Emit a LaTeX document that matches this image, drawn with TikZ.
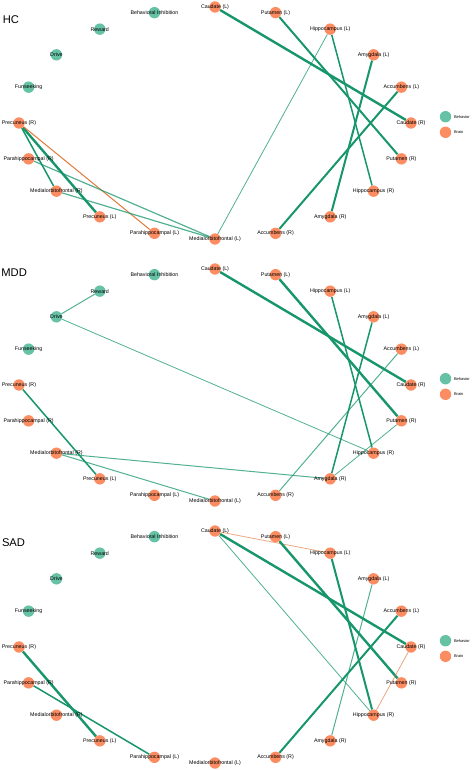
\documentclass[tikz,border=0pt]{standalone}
\usepackage{fontspec}
\setmainfont{Liberation Sans}
\usetikzlibrary{backgrounds}
\definecolor{behc}{HTML}{66C2A5}
\definecolor{brainc}{HTML}{FC8D62}
\definecolor{posc}{HTML}{17966C}
\definecolor{negc}{HTML}{E0793A}
\tikzset{
  bnode/.style={circle,fill=brainc,minimum size=11.4pt,inner sep=0pt,draw=none},
  hnode/.style={circle,fill=behc,minimum size=11.4pt,inner sep=0pt,draw=none},
  lbl/.style={font=\fontsize{5.3}{6}\selectfont,text=black,inner sep=0pt},
  leglbl/.style={font=\fontsize{4.0}{5}\selectfont,text=black,inner sep=0pt,anchor=west},
  ttl/.style={font=\fontsize{11.2}{12}\selectfont,text=black,inner sep=0pt,anchor=west},
  posedge/.style={line width=#1,draw=posc},
  lposedge/.style={line width=#1,draw=posc,draw opacity=0.75},
  negedge/.style={line width=#1,draw=negc},
  lnegedge/.style={line width=#1,draw=negc,draw opacity=0.65},
}
\newcommand\mkpanel[2]{%
  \foreach \ang/\nm/\lab/\typ in {
    90/CaudL/Caudate (L)/bnode, 72/PutL/Putamen (L)/bnode, 54/HipL/Hippocampus (L)/bnode,
    36/AmyL/Amygdala (L)/bnode, 18/AccL/Accumbens (L)/bnode, 0/CaudR/Caudate (R)/bnode,
    -18/PutR/Putamen (R)/bnode, -36/HipR/Hippocampus (R)/bnode, -54/AmyR/Amygdala (R)/bnode,
    -72/AccR/Accumbens (R)/bnode, -90/MOFL/Medialorbitofrontal (L)/bnode,
    -108/ParaL/Parahippocampal (L)/bnode, -126/PrecL/Precuneus (L)/bnode,
    -144/MOFR/Medialorbitofrontal (R)/bnode, -162/ParaR/Parahippocampal (R)/bnode,
    180/PrecR/Precuneus (R)/bnode, 162/Fun/Funseeking/hnode, 144/Drive/Drive/hnode,
    126/Reward/Reward/hnode, 108/BI/Behavioral Inhibition/hnode}{
    \node[\typ] (#2\nm) at ({215+196*cos(\ang)},{123+#1-116*sin(\ang)}) {};
    \node[lbl] (#2\nm t) at (#2\nm) {\lab};
  }
  \node[hnode] (#2legB) at (445.5,{116.7+#1}) {};
  \node[bnode] (#2legR) at (445.5,{132.3+#1}) {};
  \node[leglbl] (#2legBt) at (453.8,{116.7+#1}) {Behavior};
  \node[leglbl] (#2legRt) at (453.8,{132.3+#1}) {Brain};
}
\begin{document}
\begin{tikzpicture}[x=1pt,y=-1pt]
\useasboundingbox (0,0) rectangle (474,770);
\mkpanel{0}{hc}
\mkpanel{262}{mdd}
\mkpanel{524}{sad}
\node[ttl] (tHC) at (2.6,19.2) {HC};
\node[ttl] (tMDD) at (1.2,273) {MDD};
\node[ttl] (tSAD) at (1.8,542.8) {SAD};
\begin{scope}[on background layer]
% HC
\draw[posedge=2.4pt] (hcCaudL) -- (hcCaudR);
\draw[posedge=2.0pt] (hcPutL) -- (hcPutR);
\draw[lposedge=0.8pt] (hcHipL) -- (hcMOFL);
\draw[posedge=1.5pt] (hcHipL) -- (hcHipR);
\draw[posedge=2.0pt] (hcAmyL) -- (hcAmyR);
\draw[posedge=2.0pt] (hcAccL) -- (hcAccR);
\draw[posedge=2.4pt] (hcPrecR) -- (hcPrecL);
\draw[posedge=1.5pt] (hcPrecR) -- (hcMOFR);
\draw[negedge=1.0pt] (hcPrecR) -- (hcParaL);
\draw[lposedge=1.2pt] (hcParaR) -- (hcMOFL);
\draw[lposedge=1.2pt] (hcMOFR) -- (hcMOFL);
% MDD
\draw[lposedge=1.0pt] (mddReward) -- (mddDrive);
\draw[lposedge=0.8pt] (mddDrive) -- (mddHipR);
\draw[posedge=2.4pt] (mddCaudL) -- (mddCaudR);
\draw[posedge=2.4pt] (mddPutL) -- (mddPutR);
\draw[posedge=1.5pt] (mddHipL) -- (mddHipR);
\draw[posedge=1.5pt] (mddAmyL) -- (mddAmyR);
\draw[lposedge=1.0pt] (mddAccL) -- (mddAccR);
\draw[lposedge=0.8pt] (mddPutR) -- (mddAmyR);
\draw[posedge=1.5pt] (mddPrecR) -- (mddPrecL);
\draw[lposedge=1.0pt] (mddMOFR) -- (mddAmyR);
\draw[lposedge=1.0pt] (mddMOFR) -- (mddMOFL);
% SAD
\draw[lnegedge=0.8pt] (sadCaudL) -- (sadHipL);
\draw[posedge=2.4pt] (sadCaudL) -- (sadCaudR);
\draw[lposedge=0.8pt] (sadCaudL) -- (sadHipR);
\draw[posedge=2.4pt] (sadPutL) -- (sadPutR);
\draw[posedge=2.0pt] (sadHipL) -- (sadHipR);
\draw[lposedge=1.0pt] (sadAmyL) -- (sadAmyR);
\draw[posedge=2.0pt] (sadAccL) -- (sadAccR);
\draw[lnegedge=0.8pt] (sadCaudR) -- (sadHipR);
\draw[posedge=2.4pt] (sadPrecR) -- (sadPrecL);
\draw[posedge=1.5pt] (sadParaR) -- (sadParaL);
\end{scope}
\end{tikzpicture}
\end{document}
